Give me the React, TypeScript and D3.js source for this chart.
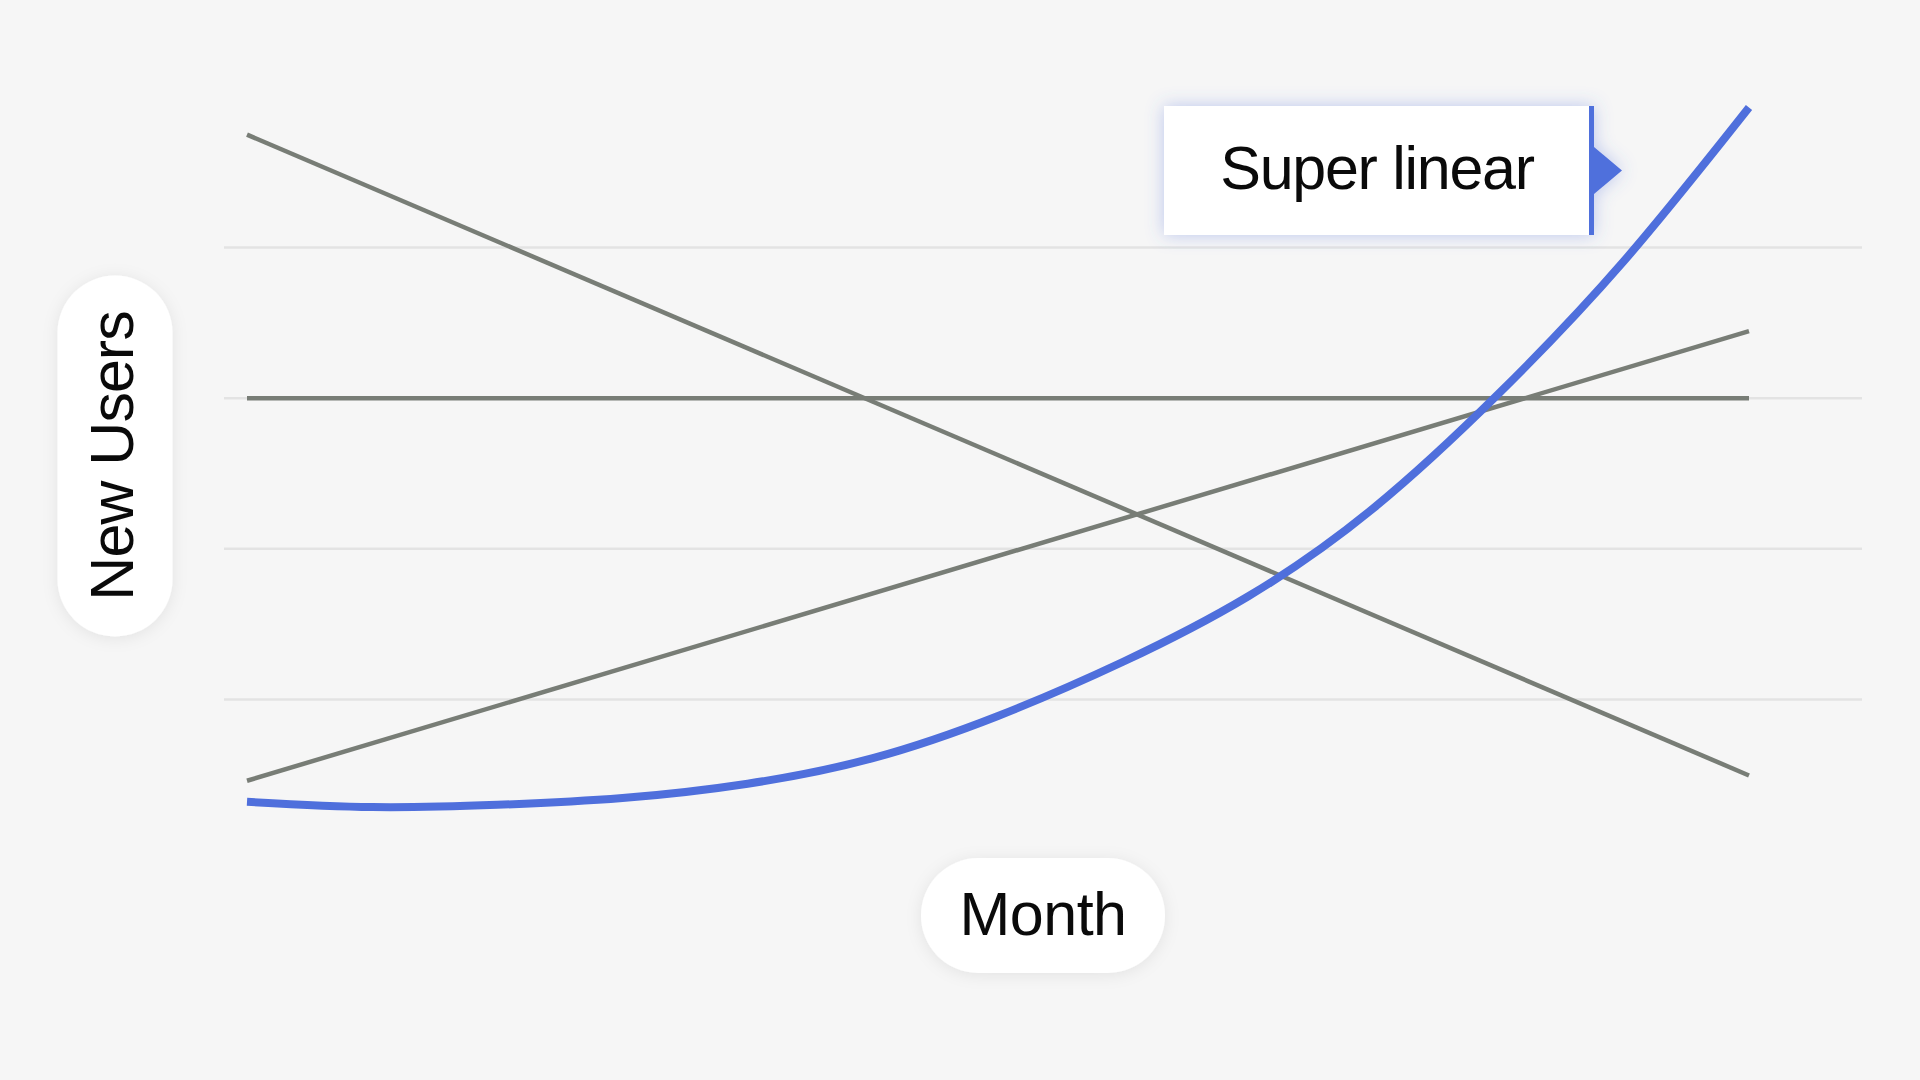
import React from 'react';
import * as d3 from 'd3';

// chart values
const months = [0, 1, 2, 3, 4, 5, 6, 7, 8, 9, 10, 11, 12];
const superLinear = [6.4, 5.7, 6.0, 6.9, 8.8, 12.2, 17.8, 25.0, 33.7, 45.4, 60.6, 78.2, 98.6];
const linearDown = [
  { month: 0, value: 95.0 },
  { month: 12, value: 9.9 },
];
const linearFlat = [
  { month: 0, value: 60 },
  { month: 12, value: 60 },
];
const linearUp = [
  { month: 0, value: 9.2 },
  { month: 12, value: 68.9 },
];
const gridTicks = [20, 40, 60, 80];

const xLabel = 'Month';
const yLabel = 'New Users';
const calloutLabel = 'Super linear';

const W = 1920;
const H = 1080;
const BLUE = '#4f6fdc';
const GRAY = '#787d76';
const FONT = '"Liberation Sans", Arial, Helvetica, sans-serif';

const App: React.FC = () => {
  const x = d3.scaleLinear().domain([0, 12]).range([247, 1749]);
  const y = d3.scaleLinear().domain([0, 100]).range([850, 97]);

  const line = d3
    .line<{ month: number; value: number }>()
    .x((d) => x(d.month))
    .y((d) => y(d.value));

  const curve = d3
    .line<number>()
    .x((_, i) => x(months[i]))
    .y((d) => y(d))
    .curve(d3.curveNatural);

  const straight = [linearDown, linearFlat, linearUp];

  return (
    <svg
      width={W}
      height={H}
      style={{ position: 'absolute', left: 0, top: 0, display: 'block' }}
    >
      <defs>
        <filter id="pillShadow" x="-30%" y="-30%" width="160%" height="160%">
          <feDropShadow dx="0" dy="2" stdDeviation="8" floodColor="#000" floodOpacity="0.08" />
        </filter>
        <filter id="calloutGlow" x="-20%" y="-40%" width="140%" height="180%">
          <feDropShadow dx="0" dy="0" stdDeviation="9" floodColor={BLUE} floodOpacity="0.35" />
        </filter>
      </defs>

      <rect width={W} height={H} fill="#f6f6f6" />

      {/* grid */}
      <g>
        {gridTicks.map((t) => (
          <line
            key={t}
            x1={224}
            x2={1862}
            y1={y(t)}
            y2={y(t)}
            stroke="#e3e3e3"
            strokeWidth={2.5}
          />
        ))}
      </g>

      {/* gray reference lines */}
      <g fill="none" stroke={GRAY} strokeWidth={4.5}>
        {straight.map((s, i) => (
          <path key={i} d={line(s) || ''} />
        ))}
      </g>

      {/* super linear curve */}
      <path d={curve(superLinear) || ''} fill="none" stroke={BLUE} strokeWidth={8} />

      {/* callout */}
      <g filter="url(#calloutGlow)">
        <rect x={1164} y={106} width={426} height={129} fill="#fff" />
        <rect x={1589} y={106} width={5} height={129} fill={BLUE} />
        <path d="M1594,147 L1622,170.5 L1594,194 Z" fill={BLUE} />
      </g>
      <text
        x={1377}
        y={189}
        textAnchor="middle"
        fontFamily={FONT}
        fontSize={61}
        letterSpacing={-1.3}
        fill="#0a0a0a"
      >
        {calloutLabel}
      </text>

      {/* y axis label pill */}
      <g filter="url(#pillShadow)">
        <rect x={57.5} y={275.5} width={115} height={361} rx={57.5} fill="#fff" />
      </g>
      <text
        transform="translate(133,456) rotate(-90)"
        textAnchor="middle"
        fontFamily={FONT}
        fontSize={61}
        letterSpacing={-1}
        fill="#0a0a0a"
      >
        {yLabel}
      </text>

      {/* x axis label pill */}
      <g filter="url(#pillShadow)">
        <rect x={921} y={858} width={244} height={115} rx={57.5} fill="#fff" />
      </g>
      <text
        x={1043}
        y={935}
        textAnchor="middle"
        fontFamily={FONT}
        fontSize={61}
        letterSpacing={-0.5}
        fill="#0a0a0a"
      >
        {xLabel}
      </text>
    </svg>
  );
};

export default App;
